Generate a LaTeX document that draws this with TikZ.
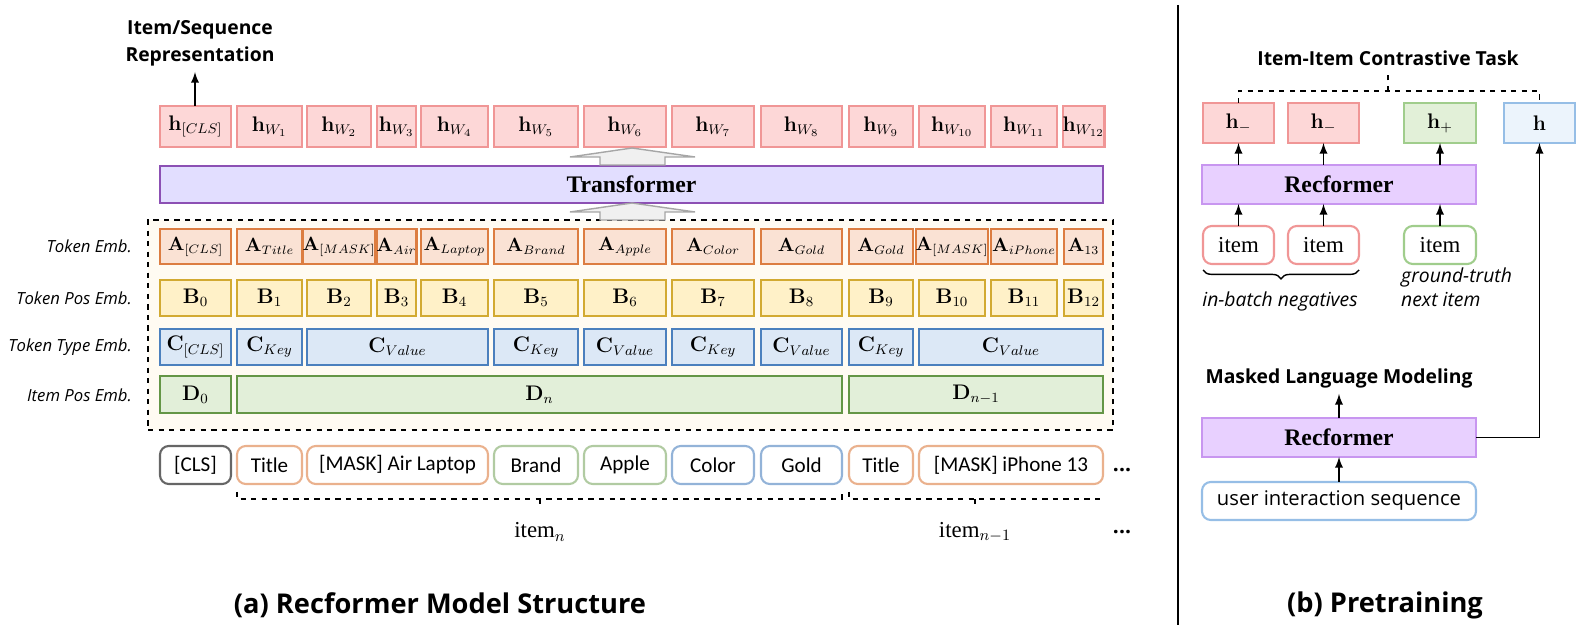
\documentclass[tikz,border=0pt]{standalone}
\usepackage[no-math]{fontspec}
\setmainfont{Open Sans}
\newfontfamily\calib{Carlito}
\newfontfamily\serf{Liberation Serif}
\usetikzlibrary{decorations.pathreplacing}
\definecolor{hfill}{RGB}{253,215,215}\definecolor{hdraw}{RGB}{240,150,150}
\definecolor{tfill}{RGB}{226,222,255}\definecolor{tdraw}{RGB}{140,80,180}
\definecolor{afill}{RGB}{250,226,212}\definecolor{adraw}{RGB}{220,125,65}
\definecolor{bfill}{RGB}{255,241,200}\definecolor{bdraw}{RGB}{210,170,50}
\definecolor{cfill}{RGB}{220,232,246}\definecolor{cdraw}{RGB}{75,128,190}
\definecolor{dfill}{RGB}{226,239,217}\definecolor{ddraw}{RGB}{100,150,70}
\definecolor{rfill}{RGB}{232,208,255}\definecolor{rdraw}{RGB}{200,150,240}
\definecolor{pfill}{RGB}{226,240,216}\definecolor{pdraw}{RGB}{160,205,140}
\definecolor{qfill}{RGB}{236,244,252}\definecolor{qdraw}{RGB}{150,190,230}
\definecolor{ebox}{RGB}{255,251,242}
\tikzset{
  bx/.style={draw, line width=1.2pt, inner sep=0pt, outer sep=0pt, font=\fontsize{12}{14}\selectfont},
  hb/.style={bx, fill=hfill, draw=hdraw},
  ab/.style={bx, fill=afill, draw=adraw, font=\fontsize{10.5}{12}\selectfont},
  bb/.style={bx, fill=bfill, draw=bdraw},
  cb/.style={bx, fill=cfill, draw=cdraw},
  db/.style={bx, fill=dfill, draw=ddraw},
  tok/.style={bx, fill=white, rounded corners=5pt, font=\calib\fontsize{12}{14}\selectfont},
  rlab/.style={anchor=east, font=\itshape\fontsize{9.5}{11}\selectfont},
  hdr/.style={font=\bfseries\fontsize{11}{13}\selectfont},
  up/.style={-latex, line width=1.1pt},
  hollow/.style={fill=gray!12, draw=gray!70, line width=0.8pt},
  model/.style={bx, font=\serf\bfseries\fontsize{13.5}{16}\selectfont},
}
% box from x1 to x2, y1 to y2 (pixels)
\newcommand\bx[7]{\node[#6, minimum width={(#3-#2)*0.02cm}, minimum height={(#5-#4)*0.02cm}] (#1) at ({(#2+#3)/2},{(#4+#5)/2}) {#7};}
\begin{document}
\begin{tikzpicture}[x=0.02cm, y=-0.02cm]
\useasboundingbox (0,0) rectangle (1579,634);
% ---------- (a) ----------
\node[hdr] (isr) at (200,30) {Item/Sequence};
\node[hdr] (isr2) at (200,56) {Representation};
\bx{ebox}{148}{1113}{220}{430}{draw, dashed, line width=1pt, fill=ebox}{}
% h row
\bx{h0}{160}{231}{106}{147}{hb}{$\mathbf{h}_{[CLS]}$}
\foreach \n/\a/\b in {1/237/302,2/307/371,3/377/416,4/421/488,5/494/578,6/584/666,7/672/754,8/761/842,9/849/913,10/919/985,11/991/1057,12/1064/1103}
  {\bx{h\n}{\a}{\b}{106}{147}{hb}{$\mathbf{h}_{W_{\n}}$}}
\coordinate (isrb) at (195,72);
\draw[up] (h0.north -| isrb) -- (isrb);
\bx{tr}{160}{1103}{166}{203}{model, fill=tfill, draw=tdraw}{Transformer}
\draw[hollow] (570,157)--(632,148)--(695,157)--(665,157)--(665,165)--(600,165)--(600,157)--cycle;
\draw[hollow] (570,212)--(632,203)--(695,212)--(665,212)--(665,220)--(600,220)--(600,212)--cycle;
% A row
\foreach \n/\a/\b/\t in {0/160/231/{[CLS]},1/237/302/{Title},2/307/371/{[MASK]},3/377/416/{Air},4/421/488/{Laptop},5/494/578/{Brand},6/584/666/{Apple},7/672/754/{Color},8/761/842/{Gold},9/849/913/{Gold},10/919/985/{[MASK]},11/991/1057/{iPhone},12/1064/1103/{13}}
  {\bx{a\n}{\a}{\b}{229}{264}{ab}{$\mathbf{A}_{\t}$}}
% B row
\foreach \n/\a/\b in {0/160/231,1/237/302,2/307/371,3/377/416,4/421/488,5/494/578,6/584/666,7/672/754,8/761/842,9/849/913,10/919/985,11/991/1057,12/1064/1103}
  {\bx{b\n}{\a}{\b}{280}{316}{bb}{$\mathbf{B}_{\n}$}}
% C row
\foreach \n/\a/\b/\t in {0/160/231/{[CLS]},1/237/302/{Key},2/307/488/{Value},3/494/578/{Key},4/584/666/{Value},5/672/754/{Key},6/761/842/{Value},7/849/913/{Key},8/919/1103/{Value}}
  {\bx{c\n}{\a}{\b}{329}{365}{cb}{$\mathbf{C}_{\t}$}}
% D row
\bx{d0}{160}{231}{376}{413}{db}{$\mathbf{D}_0$}
\bx{d1}{237}{842}{376}{413}{db}{$\mathbf{D}_n$}
\bx{d2}{849}{1103}{376}{413}{db}{$\mathbf{D}_{n-1}$}
\node[rlab] (la) at (138,246) {Token Emb.};
\node[rlab] (lb) at (138,298) {Token Pos Emb.};
\node[rlab] (lc) at (138,347) {Token Type Emb.};
\node[rlab] (ld) at (138,395) {Item Pos Emb.};
% input tokens
\bx{t0}{160}{231}{446}{484}{tok, draw=gray!80!black}{[CLS]}
\bx{t1}{237}{302}{446}{484}{tok, draw=adraw!60}{Title}
\bx{t2}{307}{488}{446}{484}{tok, draw=adraw!60}{[MASK] Air Laptop}
\bx{t3}{494}{578}{446}{484}{tok, draw=ddraw!50}{Brand}
\bx{t4}{584}{666}{446}{484}{tok, draw=ddraw!50}{Apple}
\bx{t5}{672}{754}{446}{484}{tok, draw=cdraw!60}{Color}
\bx{t6}{761}{842}{446}{484}{tok, draw=cdraw!60}{Gold}
\bx{t7}{849}{913}{446}{484}{tok, draw=adraw!60}{Title}
\bx{t8}{919}{1103}{446}{484}{tok, draw=adraw!60}{[MASK] iPhone 13}
\node[font=\fontsize{12}{14}\selectfont] (dt) at (1122,470) {\textbf{...}};
\draw[dashed, line width=0.8pt] (237,492) -- (237,499) -- (842,499) -- (842,492);
\draw[dashed, line width=0.8pt] (540,499) -- (540,506);
\draw[dashed, line width=0.8pt] (849,492) -- (849,499) -- (1103,499);
\draw[dashed, line width=0.8pt] (975,499) -- (975,506);
\node[font=\serf\fontsize{13}{15}\selectfont] (in) at (540,532) {item$_n$};
\node[font=\serf\fontsize{13}{15}\selectfont] (in1) at (975,532) {item$_{n-1}$};
\node[font=\fontsize{12}{14}\selectfont] (dt2) at (1122,532) {\textbf{...}};
\node[font=\bfseries\fontsize{15.5}{18}\selectfont] (capa) at (440,605) {(a) Recformer Model Structure};
\coordinate (vt) at (1178,5); \coordinate (vb) at (1178,625);
\draw[line width=1pt] (vt) -- (vb);
% ---------- (b) ----------
\node[hdr] (ict) at (1388,58) {Item-Item Contrastive Task};
\bx{hm1}{1203}{1274}{103}{143}{hb}{$\mathbf{h}_{-}$}
\bx{hm2}{1288}{1359}{103}{143}{hb}{$\mathbf{h}_{-}$}
\bx{hp}{1404}{1476}{103}{143}{bx, fill=pfill, draw=pdraw}{$\mathbf{h}_{+}$}
\bx{hq}{1504}{1575}{103}{143}{bx, fill=qfill, draw=qdraw}{$\mathbf{h}$}
\draw[dashed, line width=0.8pt] (hm1.north) -- ++(0,-12) -| (hq.north);
\draw[dashed, line width=0.8pt] (1388,91) -- (ict.south);
\bx{rf1}{1202}{1476}{165}{204}{model, fill=rfill, draw=rdraw}{Recformer}
\bx{i1}{1203}{1274}{226}{264}{tok, draw=hdraw, font=\serf\fontsize{13}{15}\selectfont}{item}
\bx{i2}{1288}{1359}{226}{264}{tok, draw=hdraw, font=\serf\fontsize{13}{15}\selectfont}{item}
\bx{i3}{1404}{1476}{226}{264}{tok, draw=pdraw, font=\serf\fontsize{13}{15}\selectfont}{item}
\foreach \i/\h in {i1/hm1,i2/hm2,i3/hp}{
  \draw[up] (\i.north) -- (\i.north |- rf1.south);
  \draw[up] (\h.south |- rf1.north) -- (\h.south);
}
\draw[decorate, decoration={brace, mirror, amplitude=5pt}, line width=0.8pt] (1203,270) -- (1359,270);
\node[font=\itshape\fontsize{11}{13}\selectfont] (ibn) at (1280,301) {in-batch negatives};
\node[font=\itshape\fontsize{11}{13}\selectfont, anchor=west] (gt) at (1395,277) {ground-truth};
\node[font=\itshape\fontsize{11}{13}\selectfont, anchor=west] (ni) at (1395,300) {next item};
\node[hdr] (mlm) at (1339,378) {Masked Language Modeling};
\bx{rf2}{1202}{1476}{418}{457}{model, fill=rfill, draw=rdraw}{Recformer}
\bx{uis}{1202}{1476}{482}{520}{tok, draw=qdraw, font=\fontsize{11.5}{14}\selectfont}{user interaction sequence}
\draw[up] (uis.north) -- (rf2.south);
\draw[up] (rf2.north) -- (rf2.north |- mlm.south);
\draw[up] (rf2.east) -| (hq.south);
\node[font=\bfseries\fontsize{15.5}{18}\selectfont] (capb) at (1385,605) {(b) Pretraining};
\end{tikzpicture}
\end{document}
